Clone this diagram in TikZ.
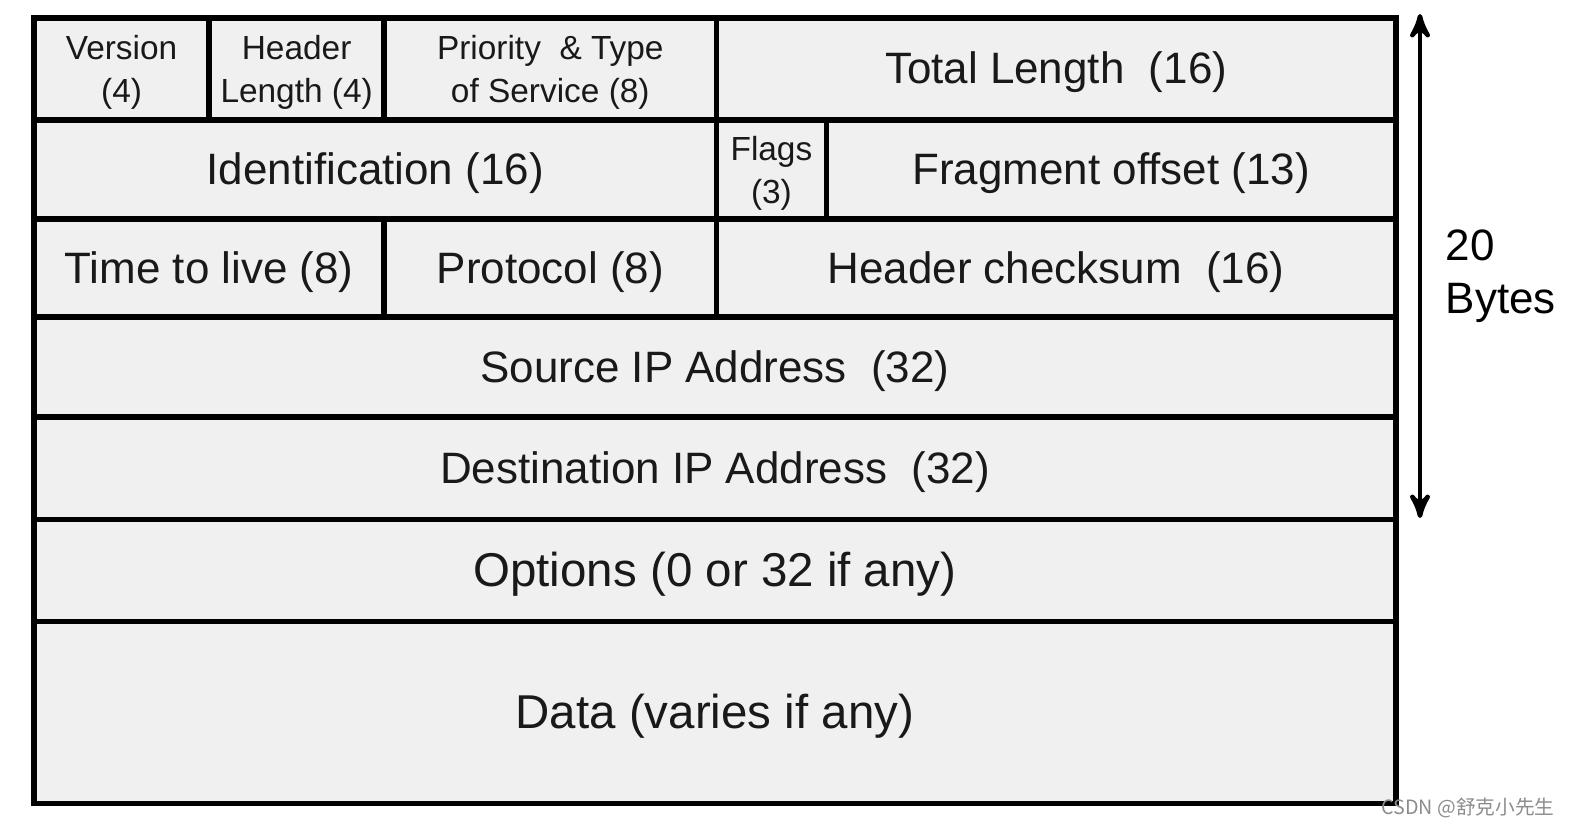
\documentclass[tikz,border=0pt]{standalone}
\usepackage{fontspec}
\setmainfont{Liberation Sans}
\newfontfamily\cjk{Noto Sans CJK SC}
\usetikzlibrary{arrows,positioning}

\begin{document}
\begin{tikzpicture}[x=0.01cm, y=-0.01cm, >=stealth', line width=1.6pt]
    \tikzstyle{field}=[draw=black, fill=black!6, rectangle, anchor=north west, outer sep=0pt, inner sep=1pt, align=center, text=black!90]
    \tikzstyle{small}=[font=\fontsize{9.5}{12.2}\selectfont, text height=19pt, text depth=0pt]
    \tikzstyle{mid}=[font=\fontsize{12.5}{15}\selectfont, text height=8.5pt, text depth=0pt]
    \tikzstyle{big}=[font=\fontsize{13.5}{16}\selectfont, text height=9.2pt, text depth=0pt]

    \useasboundingbox (0,0) rectangle (1570,829);

    % 1st row: 4+4+8+16 bits
    \node[field, small, minimum width=1.75cm, minimum height=1.02cm] (version) at (34,18) {Version\\(4)};
    \node[field, small, minimum width=1.75cm, minimum height=1.02cm] (hlen) at (version.north east) {Header\\Length (4)};
    \node[field, small, minimum width=3.32cm, minimum height=1.02cm] (tos) at (hlen.north east) {Priority \ \& Type\\of Service (8)};
    \node[field, mid, minimum width=6.79cm, minimum height=1.02cm] (totlen) at (tos.north east) {Total Length \ (16)};

    % 2nd row
    \node[field, mid, minimum width=6.82cm, minimum height=0.99cm] (ident) at (version.south west) {Identification (16)};
    \node[field, small, minimum width=1.10cm, minimum height=0.99cm] (flags) at (ident.north east) {Flags\\(3)};
    \node[field, mid, minimum width=5.69cm, minimum height=0.99cm] (fragoff) at (flags.north east) {Fragment offset (13)};

    % 3rd row
    \node[field, mid, minimum width=3.50cm, minimum height=0.98cm] (ttl) at (ident.south west) {Time to live (8)};
    \node[field, mid, minimum width=3.32cm, minimum height=0.98cm] (proto) at (ttl.north east) {Protocol (8)};
    \node[field, mid, minimum width=6.79cm, minimum height=0.98cm] (chksum) at (proto.north east) {Header checksum \ (16)};

    % addresses
    \node[field, mid, minimum width=13.61cm, minimum height=1.00cm] (srcip) at (ttl.south west) {Source IP Address \ (32)};
    \node[field, mid, minimum width=13.61cm, minimum height=1.02cm] (dstip) at (srcip.south west) {Destination IP Address \ (32)};

    % options and payload
    \node[field, big, minimum width=13.61cm, minimum height=1.02cm] (options) at (dstip.south west) {Options (0 or 32 if any)};
    \node[field, big, minimum width=13.61cm, minimum height=1.82cm] (data) at (options.south west) {Data (varies if any)};

    % header size
    \coordinate (hdrtop) at (1420,14);
    \coordinate (hdrbot) at (1420,518);
    \draw[<->, line width=1.3pt] (hdrtop) -- (hdrbot);
    \node[font=\fontsize{12.5}{15}\selectfont, align=left, anchor=west, inner sep=0pt] (bytes) at (1443,276) {20\\Bytes};

    \node[text=black!45, font=\cjk\fontsize{5.6}{7}\selectfont, inner sep=0pt] (mark) at (1468,808) {CSDN @舒克小先生}; % watermark
\end{tikzpicture}
\end{document}
